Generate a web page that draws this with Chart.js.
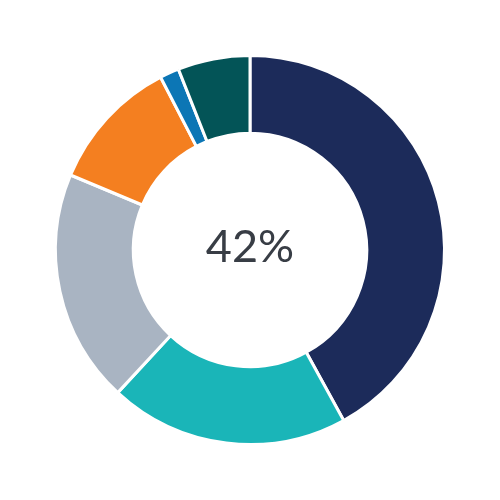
<!DOCTYPE html>
<html>
<head>
<meta charset="utf-8">
<script src="https://cdn.jsdelivr.net/npm/chart.js@4/dist/chart.umd.min.js"></script>
<style>
html,body{margin:0;padding:0;background:#fff;}
#wrap{width:500px;height:500px;}
</style>
</head>
<body>
<div id="wrap"><canvas id="c" width="500" height="500"></canvas></div>
<script>
const categories = ["A", "B", "C", "D", "E", "F"];
const values = [42, 19.9, 19.4, 11.1, 1.6, 6.0];
const colors = ["#1c2b5a", "#1ab5b8", "#a9b4c2", "#f47f20", "#0c76b5", "#035457"];
const centerLabel = "42%";

const centerText = {
  id: 'centerText',
  afterDraw(chart) {
    const meta = chart.getDatasetMeta(0);
    const arc = meta.data[0];
    const ctx = chart.ctx;
    ctx.save();
    ctx.font = '400 45px Lato, "Open Sans", sans-serif';
    ctx.fillStyle = '#383d45';
    ctx.textAlign = 'center';
    ctx.textBaseline = 'middle';
    ctx.fillText(centerLabel, arc.x, arc.y - 3);
    ctx.restore();
  }
};

new Chart(document.getElementById('c'), {
  type: 'doughnut',
  data: {
    labels: categories,
    datasets: [{
      data: values,
      backgroundColor: colors,
      borderColor: '#ffffff',
      borderWidth: 3,
      hoverOffset: 0
    }]
  },
  options: {
    responsive: false,
    animation: false,
    cutout: '60%',
    layout: { padding: 54 },
    plugins: { legend: { display: false }, tooltip: { enabled: false } }
  },
  plugins: [centerText]
});
</script>
</body>
</html>
